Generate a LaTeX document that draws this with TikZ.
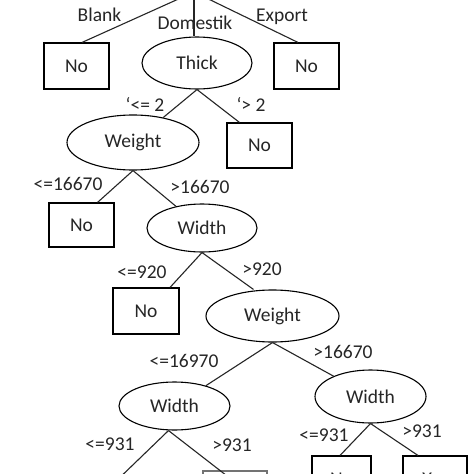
\documentclass[tikz,border=0pt]{standalone}
\usepackage{fontspec}
\setmainfont{Carlito}
\usetikzlibrary{shapes.geometric,calc}
\begin{document}
\begin{tikzpicture}[x=1pt,y=-1pt,line width=1.1pt,
  every node/.style={font=\fontsize{19.5}{23}\selectfont, text=black!85},
  leafbox/.style={draw, rectangle, inner sep=0pt, minimum width=#1, minimum height=46pt},
  leafbox/.default=65pt,
  testnode/.style={draw, ellipse, inner sep=0pt},
  lbl/.style={anchor=base, inner sep=0pt},
  edge/.style={draw=black!85}]
\useasboundingbox (0,0) rectangle (474,474);
\clip (0,0) rectangle (474,474);
\fill[white] (0,0) rectangle (474,474);
% nodes
\coordinate (top) at (194,-8);
\node[leafbox] (noA) at (76.5,66) {No};
\node[testnode, minimum width=110pt, minimum height=52pt] (thick) at (197,63) {Thick};
\node[leafbox] (noB) at (306.5,66) {No};
\node[testnode, minimum width=132pt, minimum height=55pt] (weight1) at (133,142.5) {Weight};
\node[leafbox, minimum height=45pt] (noC) at (259.5,145.5) {No};
\node[leafbox, minimum height=44pt] (noD) at (81.5,225) {No};
\node[testnode, minimum width=110pt, minimum height=48pt] (width1) at (202,228) {Width};
\node[leafbox=66pt] (noE) at (146,311) {No};
\node[testnode, minimum width=133pt, minimum height=52pt] (weight2) at (272.5,316) {Weight};
\node[testnode, minimum width=111pt, minimum height=48pt] (width2) at (174.5,406) {Width};
\node[testnode, minimum width=111pt, minimum height=53pt] (width3) at (370.5,396.5) {Width};
\node[leafbox=59pt] (noF) at (341.5,479) {No};
\node[leafbox=64pt] (yes) at (435,479) {Yes};
\node[leafbox=64pt, draw=black!55, line width=1.6pt] (grey) at (235,494) {};
\coordinate (leafL) at (110,487);
\coordinate (leafR) at (240,486);
% edges
\draw[edge] (top) -- ($(noA.north)+(5.5,0)$);
\draw[edge] (top) -- (top |- thick.north);
\draw[edge] (top) -- ($(noB.north)+(-8.5,0)$);
\draw[edge] (thick.south) -- (weight1);
\draw[edge] (thick.south) -- ($(noC.north)+(-20,0)$);
\draw[edge] (weight1.south) -- ($(noD.north)+(16,0)$);
\draw[edge] (weight1.south) -- (width1);
\draw[edge] (width1.south) -- ($(noE.north)+(24,0)$);
\draw[edge] (width1.south) -- ($(weight2.north)+(-19,0)$);
\draw[edge] (weight2.south) -- (width2);
\draw[edge] (weight2.south) -- (width3);
\draw[edge] ($(width2.south)+(-6,0)$) -- (leafL);
\draw[edge] ($(width2.south)+(-6,0)$) -- (leafR);
\draw[edge] (width3.south) -- ($(noF.north)+(-1.5,0)$);
\draw[edge] (width3.south) -- ($(yes.north)+(-17,0)$);
% labels
\node[lbl] (lBlank) at (99.5,21) {Blank};
\node[lbl] (lDom) at (195,29) {Domestik};
\node[lbl] (lExp) at (282,21) {Export};
\node[lbl] (lT1) at (145,111) {‘<= 2};
\node[lbl] (lT2) at (251,111) {‘> 2};
\node[lbl] (lW1) at (68,190) {<=16670};
\node[lbl] (lW2) at (200,193) {>16670};
\node[lbl] (lX1) at (142,278) {<=920};
\node[lbl] (lX2) at (262,275) {>920};
\node[lbl] (lW3) at (184,367) {<=16970};
\node[lbl] (lW4) at (343,358) {>16670};
\node[lbl] (lY1) at (110,450) {<=931};
\node[lbl] (lY2) at (232,451) {>931};
\node[lbl] (lY3) at (324,441) {<=931};
\node[lbl] (lY4) at (422,437) {>931};
\end{tikzpicture}
\end{document}
